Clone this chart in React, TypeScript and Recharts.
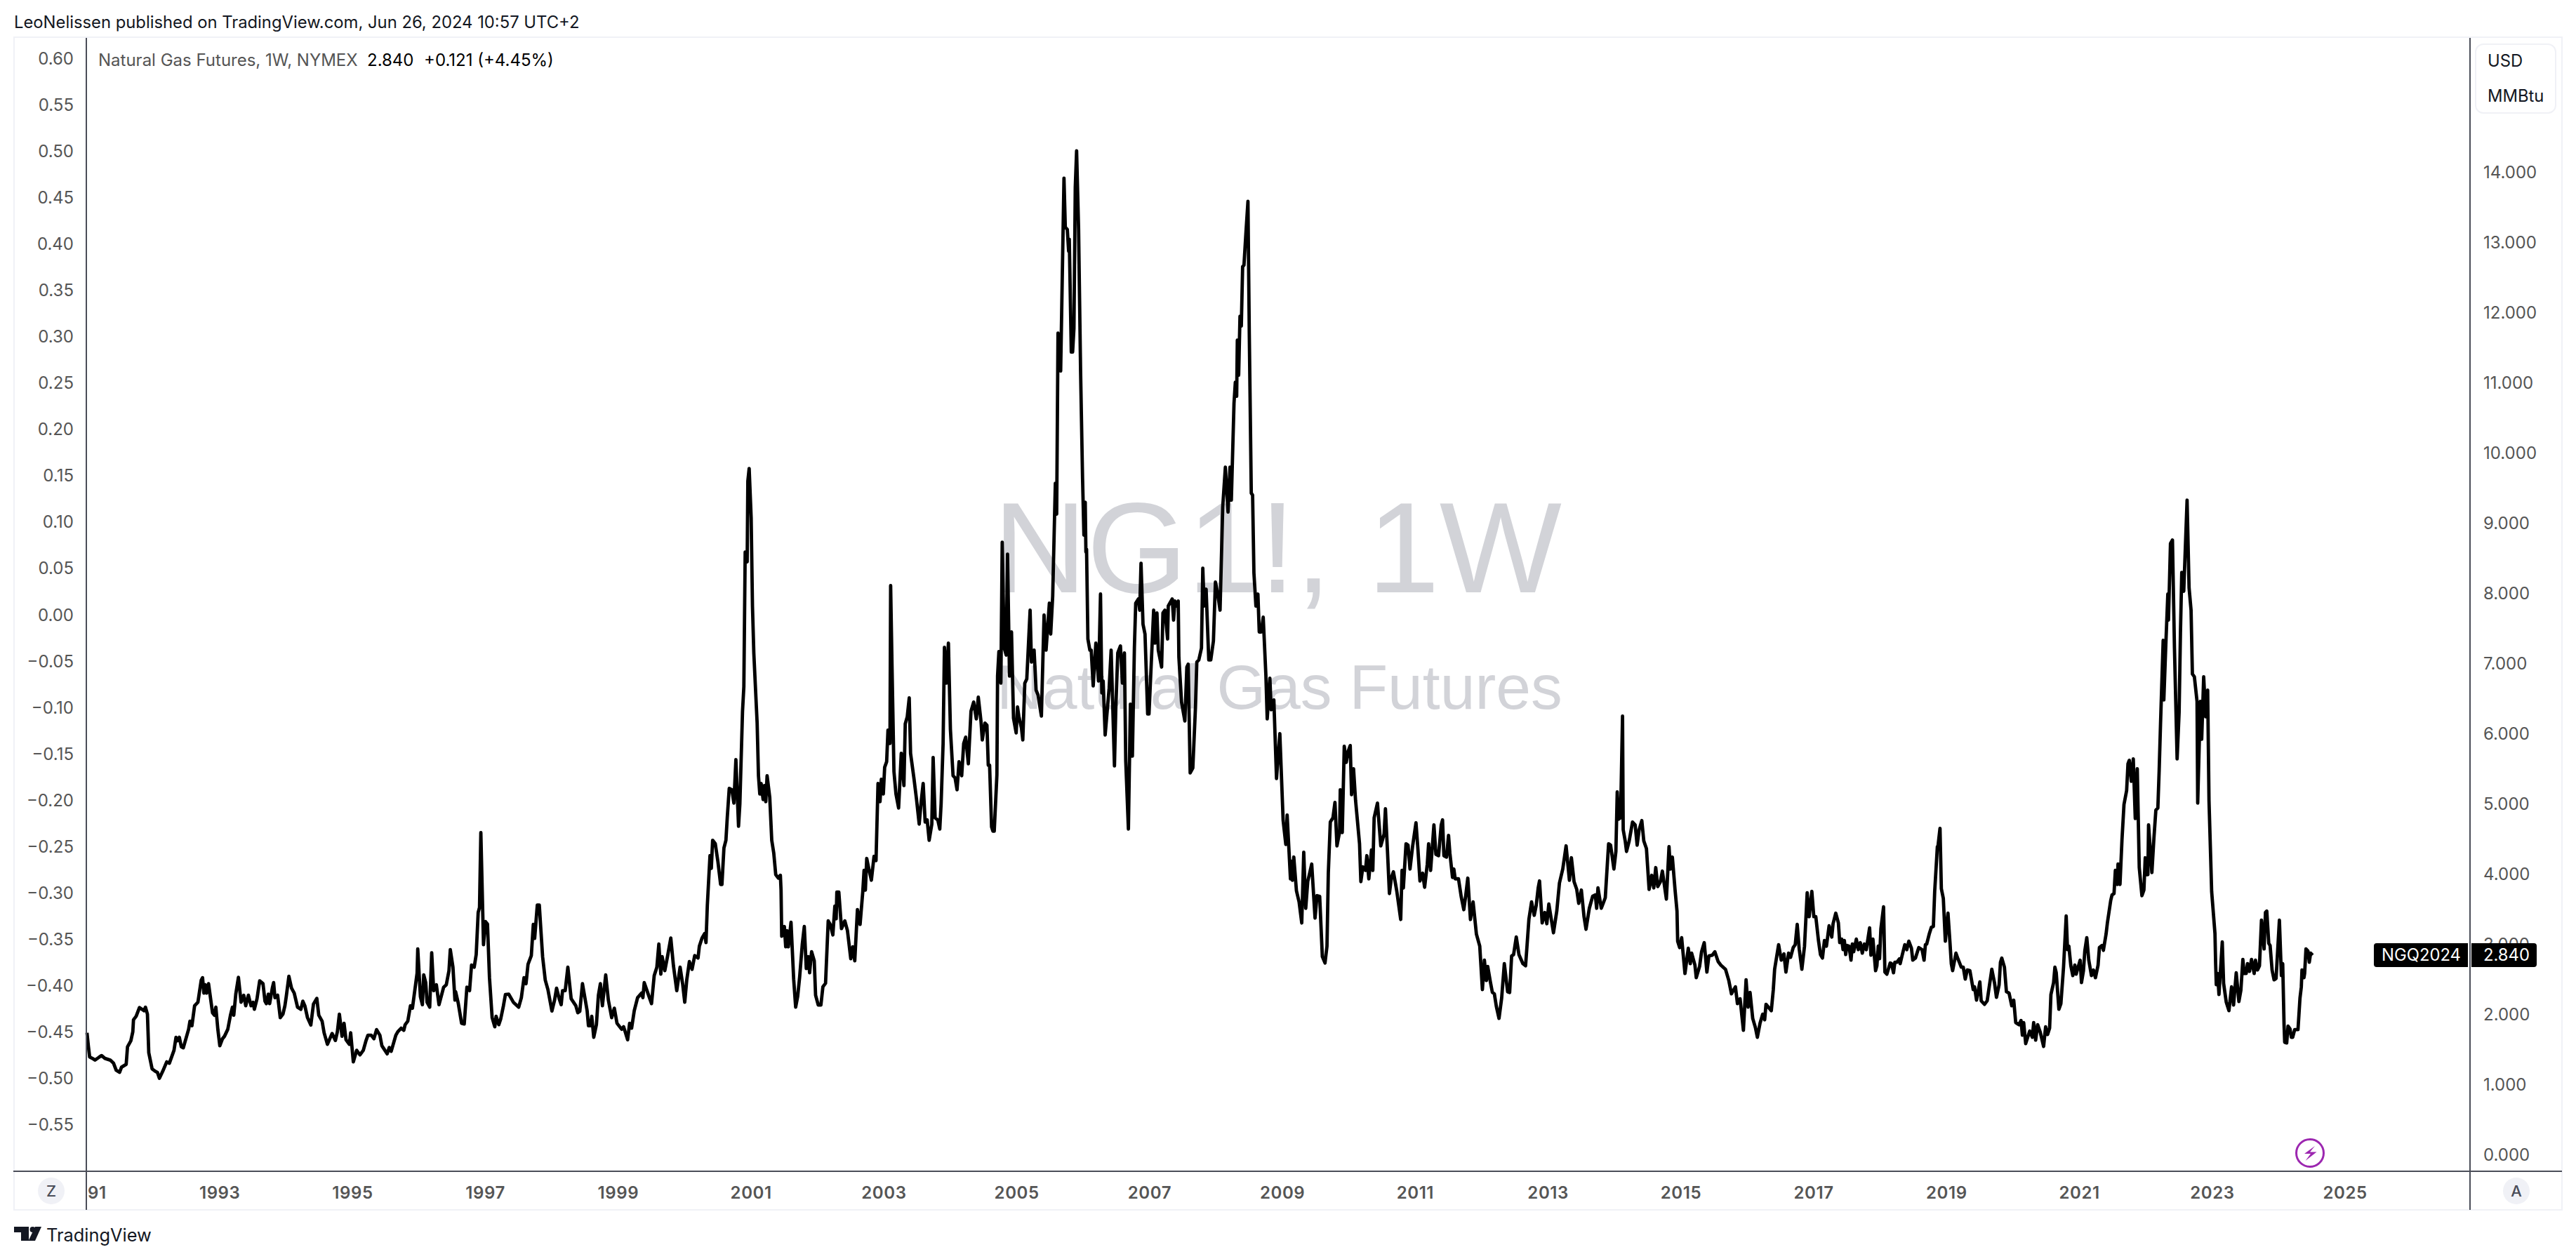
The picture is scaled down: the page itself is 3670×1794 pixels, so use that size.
import { LineChart, Line, XAxis, YAxis } from "recharts";

// weekly closes: [decimal year, price]
const closes1991: number[][] = [
  [1991.0,1.735],[1991.02,1.55],[1991.04,1.39],[1991.08,1.37],[1991.12,1.345],[1991.18,1.385],[1991.22,1.41],[1991.27,1.37],[1991.35,1.345],[1991.4,1.3],[1991.44,1.2],[1991.49,1.17],[1991.52,1.245],[1991.59,1.285],[1991.61,1.535],[1991.66,1.62],[1991.69,1.75],[1991.7,1.92],[1991.74,1.97],[1991.79,2.095],[1991.86,2.05],[1991.88,2.1],[1991.91,2.0],[1991.93,1.45],[1991.98,1.22],
  [1992.03,1.185],[1992.06,1.17],[1992.09,1.085],[1992.14,1.185],[1992.2,1.32],[1992.24,1.3],[1992.31,1.485],[1992.34,1.67],[1992.36,1.62],[1992.39,1.67],[1992.42,1.535],[1992.45,1.52],[1992.53,1.785],[1992.55,1.9],[1992.58,1.835],[1992.62,2.12],[1992.67,2.17],[1992.72,2.485],[1992.74,2.52],[1992.76,2.3],[1992.78,2.42],[1992.8,2.3],[1992.83,2.435],[1992.89,2.02],[1992.92,1.985],[1992.94,2.1],[1992.97,1.785],
];
const closes1993: number[][] = [
  [1993.0,1.55],[1993.04,1.65],[1993.07,1.685],[1993.12,1.785],[1993.16,1.985],[1993.19,2.1],[1993.21,1.985],[1993.24,2.285],[1993.28,2.525],[1993.32,2.17],[1993.36,2.27],[1993.39,2.12],[1993.43,2.27],[1993.47,2.12],[1993.5,2.17],[1993.52,2.07],[1993.56,2.22],[1993.6,2.475],[1993.65,2.435],[1993.68,2.185],[1993.7,2.15],[1993.73,2.285],[1993.75,2.15],[1993.79,2.37],[1993.81,2.45],[1993.83,2.235],[1993.87,2.27],[1993.91,1.95],[1993.95,2.0],[1993.98,2.12],
  [1994.0,2.25],[1994.04,2.54],[1994.08,2.37],[1994.12,2.3],[1994.17,2.1],[1994.22,2.07],[1994.25,2.185],[1994.28,2.12],[1994.32,1.95],[1994.37,1.845],[1994.41,2.145],[1994.46,2.225],[1994.49,1.985],[1994.54,1.9],[1994.57,1.735],[1994.62,1.57],[1994.69,1.725],[1994.74,1.625],[1994.77,1.75],[1994.8,2.0],[1994.84,1.685],[1994.87,1.87],[1994.9,1.635],[1994.95,1.57],[1994.97,1.735],
];
const closes1995: number[][] = [
  [1995.01,1.32],[1995.06,1.485],[1995.11,1.42],[1995.16,1.485],[1995.2,1.62],[1995.23,1.7],[1995.28,1.7],[1995.32,1.65],[1995.36,1.78],[1995.41,1.7],[1995.44,1.55],[1995.52,1.435],[1995.55,1.525],[1995.58,1.47],[1995.65,1.7],[1995.68,1.75],[1995.73,1.8],[1995.77,1.77],[1995.79,1.85],[1995.83,1.9],[1995.87,2.12],[1995.9,2.085],[1995.94,2.37],[1995.97,2.585],[1995.98,2.93],
  [1996.02,2.25],[1996.05,2.135],[1996.07,2.56],[1996.1,2.45],[1996.12,2.17],[1996.16,2.1],[1996.19,2.875],[1996.22,2.335],[1996.26,2.42],[1996.3,2.135],[1996.37,2.385],[1996.41,2.42],[1996.45,2.62],[1996.47,2.92],[1996.51,2.67],[1996.54,2.2],[1996.55,2.32],[1996.59,2.155],[1996.64,1.87],[1996.68,1.86],[1996.72,2.385],[1996.76,2.335],[1996.79,2.7],[1996.83,2.67],[1996.86,2.85],[1996.89,3.45],[1996.91,3.52],[1996.93,4.59],[1996.97,2.99],
];
const closes1997: number[][] = [
  [1997.0,3.32],[1997.03,3.285],[1997.06,2.52],[1997.1,1.95],[1997.14,1.82],[1997.16,1.97],[1997.2,1.85],[1997.23,1.935],[1997.27,2.12],[1997.3,2.28],[1997.35,2.285],[1997.42,2.17],[1997.5,2.1],[1997.54,2.235],[1997.58,2.52],[1997.61,2.435],[1997.64,2.71],[1997.69,2.835],[1997.72,3.28],[1997.74,3.08],[1997.78,3.555],[1997.81,3.555],[1997.86,2.82],[1997.9,2.485],[1997.94,2.35],
  [1998.0,2.045],[1998.04,2.2],[1998.07,2.37],[1998.11,2.22],[1998.14,2.135],[1998.16,2.335],[1998.2,2.335],[1998.24,2.67],[1998.29,2.22],[1998.36,2.12],[1998.39,2.02],[1998.42,2.04],[1998.46,2.435],[1998.53,2.05],[1998.55,1.835],[1998.58,1.835],[1998.6,1.97],[1998.63,1.67],[1998.67,1.85],[1998.7,2.27],[1998.73,2.435],[1998.76,2.12],[1998.81,2.56],[1998.85,2.2],[1998.9,1.95],[1998.94,2.085],[1998.98,1.87],
];
const closes1999: number[][] = [
  [1999.05,1.785],[1999.08,1.82],[1999.14,1.635],[1999.17,1.87],[1999.2,1.8],[1999.24,2.05],[1999.29,2.235],[1999.35,2.3],[1999.37,2.235],[1999.39,2.45],[1999.45,2.285],[1999.5,2.15],[1999.54,2.55],[1999.58,2.67],[1999.61,3.0],[1999.64,2.57],[1999.66,2.82],[1999.7,2.62],[1999.74,2.82],[1999.79,3.085],[1999.83,2.69],[1999.88,2.335],[1999.93,2.67],[1999.97,2.42],
  [2000.0,2.17],[2000.03,2.485],[2000.07,2.75],[2000.11,2.64],[2000.15,2.835],[2000.2,2.8],[2000.22,2.97],[2000.26,3.085],[2000.3,3.15],[2000.32,3.02],[2000.34,3.55],[2000.38,4.26],[2000.4,4.08],[2000.42,4.48],[2000.46,4.43],[2000.5,4.17],[2000.54,3.85],[2000.56,3.85],[2000.59,4.37],[2000.62,4.48],[2000.64,4.8],[2000.67,5.22],[2000.71,5.2],[2000.74,5.01],[2000.77,5.63],[2000.81,4.68],[2000.83,5.0],[2000.87,6.32],[2000.89,6.67],[2000.91,8.59],[2000.94,8.45],[2000.95,9.6],[2000.97,9.78],
];
const closes2001: number[][] = [
  [2001.0,9.08],[2001.02,7.81],[2001.04,7.15],[2001.09,6.15],[2001.11,5.4],[2001.13,5.14],[2001.15,5.29],[2001.18,5.06],[2001.2,5.26],[2001.22,5.03],[2001.24,5.4],[2001.28,5.09],[2001.31,4.48],[2001.34,4.3],[2001.37,3.99],[2001.41,3.94],[2001.44,3.98],[2001.45,3.77],[2001.46,3.11],[2001.5,3.25],[2001.52,2.96],[2001.54,3.19],[2001.56,2.96],[2001.6,3.31],[2001.64,2.5],[2001.67,2.1],[2001.7,2.25],[2001.73,2.53],[2001.77,3.0],[2001.8,3.25],[2001.83,2.65],[2001.86,2.82],[2001.88,2.59],[2001.91,2.89],[2001.95,2.76],[2001.97,2.27],
  [2002.01,2.13],[2002.05,2.13],[2002.08,2.39],[2002.12,2.44],[2002.16,3.33],[2002.19,3.28],[2002.23,3.13],[2002.26,3.54],[2002.28,3.36],[2002.29,3.74],[2002.32,3.74],[2002.36,3.22],[2002.41,3.33],[2002.45,3.19],[2002.5,2.79],[2002.53,2.96],[2002.56,2.76],[2002.6,3.49],[2002.64,3.28],[2002.68,3.74],[2002.7,4.05],[2002.72,3.77],[2002.74,4.22],[2002.77,4.08],[2002.81,3.91],[2002.85,4.25],[2002.88,4.19],[2002.91,5.29],[2002.94,5.03],[2002.96,5.35],[2002.99,5.14],
];
const closes2003: number[][] = [
  [2003.01,5.52],[2003.04,5.6],[2003.06,6.05],[2003.09,5.86],[2003.1,8.11],[2003.12,7.01],[2003.15,5.46],[2003.18,5.14],[2003.22,4.94],[2003.26,5.72],[2003.3,5.26],[2003.32,6.14],[2003.35,6.24],[2003.38,6.51],[2003.4,5.72],[2003.45,5.37],[2003.49,5.06],[2003.53,4.71],[2003.56,5.03],[2003.59,5.29],[2003.62,4.74],[2003.65,4.77],[2003.68,4.48],[2003.72,4.71],[2003.74,5.66],[2003.77,4.8],[2003.81,4.77],[2003.84,4.64],[2003.86,5.0],[2003.89,5.86],[2003.91,7.23],[2003.94,6.72],[2003.97,7.29],
  [2004.0,6.06],[2004.04,5.4],[2004.07,5.37],[2004.1,5.2],[2004.13,5.6],[2004.17,5.4],[2004.2,5.86],[2004.23,5.95],[2004.27,5.57],[2004.31,6.32],[2004.35,6.45],[2004.39,6.21],[2004.42,6.52],[2004.46,6.18],[2004.48,5.91],[2004.52,6.15],[2004.55,6.12],[2004.57,5.55],[2004.59,5.55],[2004.62,4.67],[2004.64,4.61],[2004.66,4.61],[2004.7,5.41],[2004.71,6.82],[2004.73,7.17],[2004.76,6.72],[2004.78,8.73],[2004.81,7.22],[2004.84,7.12],[2004.86,8.56],[2004.89,6.82],[2004.92,7.45],[2004.95,6.22],[2004.99,6.01],
];
const closes2005: number[][] = [
  [2005.01,6.38],[2005.03,6.25],[2005.07,6.08],[2005.09,5.91],[2005.12,6.72],[2005.15,6.78],[2005.2,7.76],[2005.22,7.02],[2005.26,7.19],[2005.29,6.62],[2005.32,6.55],[2005.37,6.25],[2005.41,7.69],[2005.44,7.19],[2005.49,7.86],[2005.51,7.42],[2005.54,7.96],[2005.58,9.57],[2005.6,9.13],[2005.62,11.71],[2005.66,11.17],[2005.71,13.92],[2005.73,13.22],[2005.76,13.19],[2005.78,12.88],[2005.79,13.05],[2005.82,11.44],[2005.84,11.44],[2005.86,11.78],[2005.88,13.79],[2005.9,14.31],[2005.93,13.19],[2005.96,11.17],[2005.99,9.63],
  [2006.01,8.83],[2006.03,9.3],[2006.04,8.59],[2006.05,8.63],[2006.07,7.35],[2006.1,7.19],[2006.12,7.19],[2006.15,6.68],[2006.19,7.29],[2006.23,6.75],[2006.26,7.99],[2006.28,6.58],[2006.3,6.75],[2006.33,5.98],[2006.39,6.65],[2006.42,7.19],[2006.47,5.54],[2006.49,6.35],[2006.52,7.15],[2006.56,7.25],[2006.59,6.72],[2006.62,7.15],[2006.64,5.61],[2006.68,4.64],[2006.71,6.42],[2006.74,5.68],[2006.77,7.22],[2006.79,7.86],[2006.83,7.92],[2006.85,7.76],[2006.87,8.43],[2006.9,7.56],[2006.93,7.42],[2006.97,6.28],[2006.99,6.28],
];
const closes2007: number[][] = [
  [2007.06,7.76],[2007.08,7.29],[2007.11,7.72],[2007.13,7.19],[2007.18,6.95],[2007.2,7.72],[2007.23,7.76],[2007.27,7.35],[2007.28,7.82],[2007.34,7.92],[2007.36,7.62],[2007.38,7.89],[2007.4,7.82],[2007.43,7.89],[2007.44,7.09],[2007.48,6.45],[2007.53,6.18],[2007.56,6.95],[2007.58,6.99],[2007.61,5.44],[2007.65,5.51],[2007.69,6.38],[2007.71,7.02],[2007.74,7.05],[2007.78,7.22],[2007.8,8.36],[2007.82,7.82],[2007.85,8.06],[2007.89,7.05],[2007.92,7.05],[2007.96,7.32],[2007.99,8.16],
  [2008.02,8.02],[2008.06,7.76],[2008.1,9.23],[2008.14,9.8],[2008.18,9.16],[2008.21,9.8],[2008.23,9.33],[2008.27,10.71],[2008.29,11.01],[2008.31,10.81],[2008.32,11.61],[2008.34,11.11],[2008.36,11.95],[2008.38,11.81],[2008.4,12.66],[2008.42,12.68],[2008.45,13.15],[2008.48,13.59],[2008.5,11.71],[2008.53,9.43],[2008.55,9.4],[2008.57,8.29],[2008.6,7.82],[2008.63,7.99],[2008.65,7.45],[2008.68,7.45],[2008.71,7.66],[2008.75,6.83],[2008.77,6.21],[2008.81,6.79],[2008.83,6.34],[2008.87,6.48],[2008.91,5.36],[2008.96,6.0],
];
const closes2009: number[][] = [
  [2009.01,4.76],[2009.05,4.42],[2009.07,4.84],[2009.12,3.93],[2009.13,4.18],[2009.15,3.91],[2009.17,4.24],[2009.21,3.76],[2009.25,3.6],[2009.29,3.3],[2009.32,4.31],[2009.35,3.51],[2009.38,3.89],[2009.44,4.14],[2009.49,3.37],[2009.52,3.69],[2009.56,3.68],[2009.6,2.82],[2009.64,2.73],[2009.67,2.97],[2009.69,4.01],[2009.72,4.74],[2009.76,4.8],[2009.79,5.02],[2009.82,4.4],[2009.86,4.6],[2009.87,5.2],[2009.9,4.59],[2009.93,5.82],[2009.96,5.59],[2009.99,5.75],
  [2010.02,5.83],[2010.04,5.13],[2010.07,5.5],[2010.1,5.05],[2010.16,4.43],[2010.18,3.89],[2010.21,4.1],[2010.25,4.05],[2010.27,4.26],[2010.3,3.93],[2010.34,4.34],[2010.36,4.05],[2010.38,4.8],[2010.43,5.01],[2010.48,4.4],[2010.53,4.57],[2010.55,4.93],[2010.58,4.34],[2010.61,3.72],[2010.64,3.95],[2010.67,4.03],[2010.72,3.76],[2010.78,3.35],[2010.8,4.05],[2010.82,3.8],[2010.86,4.43],[2010.89,4.41],[2010.92,4.07],[2010.96,4.4],
];
const closes2011: number[][] = [
  [2011.01,4.73],[2011.04,4.34],[2011.07,3.9],[2011.11,4.01],[2011.14,3.81],[2011.18,4.14],[2011.2,4.43],[2011.23,4.05],[2011.28,4.7],[2011.31,4.28],[2011.35,4.26],[2011.39,4.7],[2011.41,4.77],[2011.43,4.26],[2011.47,4.24],[2011.5,4.55],[2011.52,4.3],[2011.56,3.95],[2011.58,4.07],[2011.6,3.93],[2011.65,3.93],[2011.69,3.68],[2011.73,3.49],[2011.76,3.7],[2011.79,3.94],[2011.83,3.35],[2011.87,3.6],[2011.92,3.14],[2011.97,2.97],
  [2012.01,2.35],[2012.04,2.77],[2012.07,2.48],[2012.09,2.68],[2012.13,2.46],[2012.16,2.31],[2012.19,2.29],[2012.22,2.11],[2012.26,1.94],[2012.3,2.23],[2012.34,2.72],[2012.39,2.32],[2012.42,2.31],[2012.45,2.83],[2012.48,2.85],[2012.52,3.1],[2012.56,2.85],[2012.62,2.72],[2012.66,2.69],[2012.68,2.95],[2012.71,3.35],[2012.75,3.6],[2012.79,3.41],[2012.82,3.55],[2012.85,3.8],[2012.87,3.9],[2012.91,3.3],[2012.95,3.45],[2012.98,3.29],
];
const closes2013: number[][] = [
  [2013.01,3.57],[2013.08,3.16],[2013.13,3.47],[2013.17,3.87],[2013.22,4.07],[2013.27,4.4],[2013.32,3.91],[2013.35,4.23],[2013.39,3.89],[2013.43,3.78],[2013.46,3.58],[2013.5,3.77],[2013.54,3.39],[2013.57,3.21],[2013.62,3.51],[2013.67,3.68],[2013.71,3.7],[2013.73,3.51],[2013.75,3.8],[2013.8,3.51],[2013.86,3.66],[2013.91,4.43],[2013.94,4.41],[2013.99,4.07],
  [2014.02,4.32],[2014.04,5.17],[2014.06,4.78],[2014.09,4.8],[2014.12,6.25],[2014.13,4.63],[2014.16,4.47],[2014.18,4.32],[2014.22,4.47],[2014.27,4.74],[2014.31,4.7],[2014.34,4.41],[2014.37,4.63],[2014.41,4.76],[2014.44,4.47],[2014.48,4.36],[2014.52,3.78],[2014.56,3.98],[2014.59,3.8],[2014.62,4.09],[2014.65,3.82],[2014.69,3.89],[2014.72,4.04],[2014.78,3.64],[2014.82,4.39],[2014.84,4.07],[2014.87,4.24],[2014.91,3.78],[2014.94,3.47],[2014.95,3.04],[2014.98,2.95],
];
const closes2015: number[][] = [
  [2015.01,3.09],[2015.06,2.58],[2015.11,2.94],[2015.14,2.72],[2015.16,2.87],[2015.21,2.7],[2015.23,2.52],[2015.28,2.68],[2015.31,2.89],[2015.35,3.02],[2015.39,2.6],[2015.42,2.83],[2015.47,2.84],[2015.51,2.89],[2015.56,2.75],[2015.6,2.7],[2015.67,2.64],[2015.72,2.48],[2015.76,2.29],[2015.82,2.39],[2015.85,2.15],[2015.89,2.22],[2015.94,1.77],[2015.98,2.49],
  [2016.01,2.1],[2016.04,2.31],[2016.08,1.94],[2016.12,1.81],[2016.15,1.67],[2016.19,1.87],[2016.23,2.0],[2016.26,1.92],[2016.28,2.14],[2016.36,2.05],[2016.39,2.35],[2016.41,2.64],[2016.47,2.99],[2016.51,2.77],[2016.55,2.86],[2016.58,2.6],[2016.62,2.87],[2016.65,2.81],[2016.69,2.95],[2016.72,2.99],[2016.75,3.28],[2016.78,2.93],[2016.82,2.64],[2016.86,2.97],[2016.9,3.73],[2016.93,3.39],[2016.97,3.75],
];
const closes2017: number[][] = [
  [2017.0,3.39],[2017.03,3.39],[2017.07,3.05],[2017.1,2.85],[2017.13,2.8],[2017.16,3.05],[2017.19,2.97],[2017.23,3.26],[2017.27,3.1],[2017.29,3.29],[2017.33,3.44],[2017.37,3.3],[2017.39,3.02],[2017.42,3.07],[2017.44,2.92],[2017.46,3.05],[2017.48,2.85],[2017.5,2.98],[2017.53,2.97],[2017.56,2.77],[2017.58,3.0],[2017.6,2.89],[2017.64,3.07],[2017.67,2.92],[2017.7,3.02],[2017.73,2.87],[2017.76,3.0],[2017.79,2.92],[2017.84,3.23],[2017.86,2.84],[2017.89,3.07],[2017.93,2.62],[2017.95,2.69],[2017.97,2.97],[2017.99,2.79],
  [2018.01,3.22],[2018.05,3.53],[2018.07,2.6],[2018.1,2.57],[2018.15,2.73],[2018.17,2.72],[2018.2,2.59],[2018.22,2.74],[2018.25,2.74],[2018.29,2.79],[2018.3,2.72],[2018.33,2.84],[2018.37,2.99],[2018.4,2.92],[2018.43,3.04],[2018.47,2.94],[2018.49,2.77],[2018.53,2.8],[2018.58,2.95],[2018.63,2.92],[2018.66,2.77],[2018.68,2.99],[2018.7,3.0],[2018.74,3.15],[2018.77,3.24],[2018.8,3.25],[2018.82,3.75],[2018.86,4.39],[2018.87,4.4],[2018.9,4.65],[2018.92,3.79],[2018.95,3.65],[2018.98,3.04],
];
const closes2019: number[][] = [
  [2019.02,3.44],[2019.05,3.02],[2019.07,2.72],[2019.09,2.62],[2019.14,2.87],[2019.17,2.79],[2019.22,2.67],[2019.25,2.67],[2019.28,2.5],[2019.31,2.63],[2019.35,2.62],[2019.4,2.35],[2019.42,2.39],[2019.45,2.2],[2019.5,2.46],[2019.52,2.19],[2019.57,2.14],[2019.61,2.19],[2019.68,2.64],[2019.72,2.45],[2019.75,2.24],[2019.79,2.42],[2019.81,2.74],[2019.83,2.8],[2019.87,2.67],[2019.9,2.32],[2019.94,2.3],[2019.98,2.12],
  [2020.01,2.2],[2020.04,1.88],[2020.09,1.85],[2020.12,1.91],[2020.14,1.7],[2020.16,1.88],[2020.19,1.58],[2020.22,1.67],[2020.25,1.76],[2020.29,1.67],[2020.31,1.88],[2020.34,1.63],[2020.37,1.85],[2020.41,1.74],[2020.46,1.54],[2020.49,1.82],[2020.52,1.71],[2020.55,1.8],[2020.57,2.28],[2020.61,2.45],[2020.63,2.67],[2020.65,2.59],[2020.69,2.07],[2020.72,2.15],[2020.76,2.67],[2020.8,3.4],[2020.82,2.92],[2020.84,2.97],[2020.87,2.69],[2020.9,2.55],[2020.93,2.7],[2020.95,2.57],
];
const closes2021: number[][] = [
  [2021.01,2.77],[2021.03,2.45],[2021.06,2.62],[2021.08,2.9],[2021.11,3.09],[2021.14,2.77],[2021.18,2.55],[2021.21,2.63],[2021.24,2.52],[2021.28,2.7],[2021.3,2.95],[2021.34,2.98],[2021.36,2.91],[2021.4,3.14],[2021.42,3.3],[2021.47,3.62],[2021.49,3.7],[2021.52,3.72],[2021.54,4.05],[2021.57,3.85],[2021.58,4.14],[2021.61,3.85],[2021.64,4.49],[2021.67,4.99],[2021.71,5.19],[2021.73,5.57],[2021.75,5.62],[2021.78,5.32],[2021.81,5.64],[2021.84,4.79],[2021.87,5.5],[2021.9,4.09],[2021.94,3.69],[2021.97,3.77],[2021.99,4.23],
  [2022.01,3.99],[2022.03,3.99],[2022.04,4.7],[2022.09,4.02],[2022.12,4.5],[2022.15,4.91],[2022.18,4.94],[2022.2,5.48],[2022.22,6.13],[2022.26,7.33],[2022.27,6.48],[2022.3,7.27],[2022.33,7.99],[2022.34,7.62],[2022.37,8.71],[2022.4,8.76],[2022.43,7.22],[2022.47,5.64],[2022.5,6.3],[2022.52,7.43],[2022.54,8.3],[2022.57,8.03],[2022.62,9.33],[2022.65,8.08],[2022.68,7.76],[2022.7,6.85],[2022.73,6.81],[2022.77,6.46],[2022.78,5.01],[2022.82,6.46],[2022.84,5.92],[2022.87,6.81],[2022.9,6.24],[2022.93,6.62],[2022.95,5.05],[2022.99,3.75],
];
const closes2023: number[][] = [
  [2023.04,3.15],[2023.05,2.72],[2023.06,2.42],[2023.08,2.58],[2023.1,2.28],[2023.15,3.03],[2023.17,2.44],[2023.21,2.17],[2023.25,2.05],[2023.29,2.39],[2023.32,2.13],[2023.36,2.59],[2023.4,2.18],[2023.43,2.34],[2023.46,2.78],[2023.48,2.58],[2023.51,2.58],[2023.53,2.72],[2023.56,2.61],[2023.59,2.78],[2023.63,2.58],[2023.65,2.77],[2023.68,2.63],[2023.71,2.69],[2023.74,3.34],[2023.78,2.93],[2023.8,3.45],[2023.82,3.47],[2023.85,3.01],[2023.87,2.98],[2023.9,2.63],[2023.93,2.49],[2023.96,2.51],
  [2024.01,3.34],[2024.04,2.55],[2024.06,2.72],[2024.08,1.85],[2024.09,1.6],[2024.12,1.59],[2024.14,1.83],[2024.17,1.79],[2024.19,1.67],[2024.21,1.67],[2024.24,1.78],[2024.29,1.78],[2024.32,2.23],[2024.34,2.39],[2024.35,2.63],[2024.38,2.52],[2024.39,2.58],[2024.41,2.93],[2024.44,2.9],[2024.46,2.74],[2024.48,2.87],[2024.51,2.84],
];

const yearTicks = [1991, 1993, 1995, 1997, 1999, 2001, 2003, 2005, 2007, 2009, 2011, 2013, 2015, 2017, 2019, 2021, 2023, 2025];
const leftTicks = [0.6, 0.55, 0.5, 0.45, 0.4, 0.35, 0.3, 0.25, 0.2, 0.15, 0.1, 0.05, 0, -0.05, -0.1, -0.15, -0.2, -0.25, -0.3, -0.35, -0.4, -0.45, -0.5, -0.55];
const priceTicks = [0, 1, 2, 3, 4, 5, 6, 7, 8, 9, 10, 11, 12, 13, 14];

const chartData = [
  ...closes1991, ...closes1993, ...closes1995, ...closes1997, ...closes1999, ...closes2001,
  ...closes2003, ...closes2005, ...closes2007, ...closes2009, ...closes2011, ...closes2013,
  ...closes2015, ...closes2017, ...closes2019, ...closes2021, ...closes2023,
].map(([t, close]) => ({ t, close }));

const FONT = "Inter, 'Noto Sans', sans-serif";
const AXIS = "#4a4d58";
const FRAME = "#f0f1f6";
const GREY = "#555555";
const INK = "#131722";

const YearTick = ({ x, y, payload }: any) => {
  const clipped = payload.value === 1991;
  return (
    <text
      x={clipped ? x + 1 : x}
      y={y}
      dy={31}
      textAnchor={clipped ? "start" : "middle"}
      fill={GREY}
      fontFamily={FONT}
      fontSize={24}
      fontWeight={600}
      letterSpacing={0.6}
    >
      {clipped ? "91" : payload.value}
    </text>
  );
};

const formatLeft = (v: number) => (v < 0 ? "\u2212" + Math.abs(v).toFixed(2) : v.toFixed(2));

const Label = ({ x, y, size = 23.8, color = INK, weight = 400, children }: any) => (
  <div
    style={{
      position: "absolute",
      left: x,
      top: y - 20,
      height: 40,
      lineHeight: "40px",
      fontFamily: FONT,
      fontSize: size,
      color,
      fontWeight: weight,
      whiteSpace: "pre",
    }}
  >
    {children}
  </div>
);

const Box = ({ x, y, w, h, style }: any) => (
  <div style={{ position: "absolute", left: x, top: y, width: w, height: h, ...style }} />
);

const Badge = ({ cx, text }: any) => (
  <div
    style={{
      position: "absolute",
      left: cx - 19,
      top: 1678,
      width: 38,
      height: 38,
      borderRadius: 19,
      background: "#f0f1f6",
      color: AXIS,
      fontFamily: FONT,
      fontSize: 22,
      fontWeight: 500,
      lineHeight: "38px",
      textAlign: "center",
    }}
  >
    {text}
  </div>
);

export default function App() {
  return (
    <div style={{ position: "absolute", left: 0, top: 0, width: 3670, height: 1794, background: "#fff", overflow: "hidden" }}>
      {/* watermark sits under the chart */}
      <svg width={3670} height={1794} style={{ position: "absolute", left: 0, top: 0 }}>
        <text x={1415} y={844} fontFamily="'Liberation Sans', sans-serif" fontSize={184.5} fill="#d2d3d8">NG1!, 1W</text>
        <text x={1420} y={1010} fontFamily="'Liberation Sans', sans-serif" fontSize={89.5} fill="#d2d3d8">Natural Gas Futures</text>
      </svg>

      <div style={{ position: "absolute", left: 0, top: 0 }}>
        <LineChart width={3670} height={1794} data={chartData} margin={{ top: 53, right: 20, bottom: 70, left: 20 }}>
          <XAxis
            dataKey="t"
            type="number"
            domain={[1990.99, 2026.88]}
            ticks={yearTicks}
            interval={0}
            height={55}
            tickLine={false}
            tick={<YearTick />}
            axisLine={{ stroke: AXIS, strokeWidth: 2 }}
          />
          <YAxis
            yAxisId="left"
            orientation="left"
            type="number"
            domain={[-0.6, 0.6227]}
            allowDataOverflow
            ticks={leftTicks}
            interval={0}
            width={103}
            tickLine={false}
            tickSize={0}
            tickMargin={18}
            tickFormatter={formatLeft}
            tick={{ fill: GREY, fontFamily: FONT, fontSize: 24 }}
            axisLine={{ stroke: AXIS, strokeWidth: 2 }}
          />
          <YAxis
            yAxisId="price"
            orientation="right"
            type="number"
            domain={[-0.24, 15.93]}
            ticks={priceTicks}
            interval={0}
            width={131}
            tickLine={false}
            tickSize={0}
            tickMargin={19}
            tickFormatter={(v: number) => v.toFixed(3)}
            tick={{ fill: GREY, fontFamily: FONT, fontSize: 24 }}
            axisLine={{ stroke: AXIS, strokeWidth: 2 }}
          />
          {/* the left scale has no visible series of its own, this keeps its ticks alive */}
          <Line yAxisId="left" dataKey="close" stroke="none" dot={false} isAnimationActive={false} />
          <Line
            yAxisId="price"
            dataKey="close"
            type="linear"
            stroke="#000000"
            strokeWidth={4.8}
            strokeLinejoin="round"
            dot={false}
            isAnimationActive={false}
          />
        </LineChart>
      </div>

      {/* frame and axis extensions */}
      <Box x={19} y={52} w={3628} h={1669} style={{ border: `2px solid ${FRAME}`, boxSizing: "content-box", pointerEvents: "none" }} />
      <Box x={19} y={1668} w={104} h={2} style={{ background: AXIS }} />
      <Box x={3519} y={1668} w={131} h={2} style={{ background: AXIS }} />
      <Box x={122} y={1669} w={2} h={55} style={{ background: AXIS }} />
      <Box x={3518} y={1669} w={2} h={55} style={{ background: AXIS }} />

      <Label x={20} y={32}>LeoNelissen published on TradingView.com, Jun 26, 2024 10:57 UTC+2</Label>
      <Label x={140} y={86} size={24} color={GREY}>Natural Gas Futures, 1W, NYMEX</Label>
      <Label x={523} y={86} size={24} color="#000">2.840</Label>
      <Label x={604} y={86} size={24} color="#000">+0.121 (+4.45%)</Label>

      {/* currency / unit box */}
      <Box x={3526} y={62} w={112} h={96} style={{ border: `2px solid ${FRAME}`, borderRadius: 12, background: "#fff", boxSizing: "content-box" }} />
      <Label x={3544} y={87}>USD</Label>
      <Label x={3544} y={137}>MMBtu</Label>

      {/* last price tags */}
      <Box x={3382} y={1344} w={134} h={34} style={{ background: "#000", borderRadius: "4px 0 0 4px" }} />
      <Box x={3521} y={1344} w={93} h={34} style={{ background: "#000", borderRadius: "0 4px 4px 0" }} />
      <Label x={3393} y={1361} color="#fff">NGQ2024</Label>
      <Label x={3538} y={1361} color="#fff">2.840</Label>

      <Badge cx={73} text="Z" />
      <Badge cx={3585} text="A" />

      <svg width={3670} height={1794} style={{ position: "absolute", left: 0, top: 0, pointerEvents: "none" }}>
        <circle cx={3291} cy={1643} r={19.5} fill="#fff" stroke="#9c27b0" strokeWidth={3} />
        <path d="M3298 1633 L3283 1644 H3292 L3284.5 1654 L3300.5 1641.5 H3291 Z" fill="#9c27b0" />
        {/* TradingView logo */}
        <path d="M20 1748 H41 V1768 H30 V1756 H20 Z" fill={INK} />
        <circle cx={46.5} cy={1752} r={4} fill={INK} />
        <path d="M50 1748 H59 L50 1768 H40.5 Z" fill={INK} />
      </svg>
      <Label x={66} y={1760} size={25.4}>TradingView</Label>
    </div>
  );
}
